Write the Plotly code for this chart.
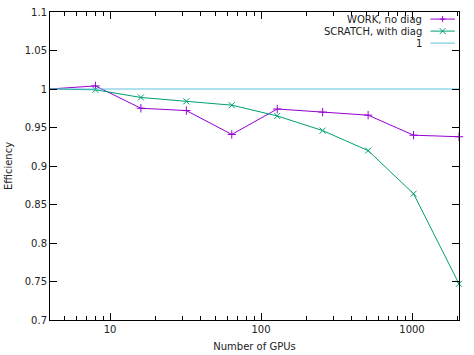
import plotly.graph_objects as go
import numpy as np

gpus = [4, 8, 16, 32, 64, 128, 256, 512, 1024, 2048]
work_no_diag = [1.0, 1.004, 0.975, 0.972, 0.941, 0.974, 0.970, 0.966, 0.940, 0.938]
scratch_with_diag = [1.0, 0.999, 0.989, 0.984, 0.979, 0.965, 0.946, 0.920, 0.864, 0.747]
one_x = [4, 2048]
one_y = [1.0, 1.0]

series_names = ["WORK, no diag", "SCRATCH, with diag", "1"]
colors = ["#9400d3", "#009e73", "#5ec4dc"]
symbols = ["cross-thin-open", "x-thin-open", None]

xtick_vals = [10, 100, 1000]
xtick_text = ["10", "100", "1000"]
xminor_vals = [m * d for d in (1, 10, 100, 1000) for m in range(2, 10) if 4 < m * d < 2048]
ytick_vals = [0.7, 0.75, 0.8, 0.85, 0.9, 0.95, 1.0, 1.05, 1.1]
ytick_text = ["0.7", "0.75", "0.8", "0.85", "0.9", "0.95", "1", "1.05", "1.1"]

font = dict(family="DejaVu Sans, Liberation Sans, sans-serif", size=10, color="#222")

fig = go.Figure()
fig.add_trace(go.Scatter(x=gpus, y=work_no_diag, mode="lines+markers",
                         line=dict(color=colors[0], width=1),
                         marker=dict(symbol=symbols[0], size=6, color=colors[0],
                                     line=dict(color=colors[0], width=1)),
                         cliponaxis=False, showlegend=False))
fig.add_trace(go.Scatter(x=gpus, y=scratch_with_diag, mode="lines+markers",
                         line=dict(color=colors[1], width=1),
                         marker=dict(symbol=symbols[1], size=6, color=colors[1],
                                     line=dict(color=colors[1], width=1)),
                         cliponaxis=False, showlegend=False))
fig.add_trace(go.Scatter(x=one_x, y=one_y, mode="lines",
                         line=dict(color=colors[2], width=1), showlegend=False))

# gnuplot-style key: text, then sample to its right (paper coordinates)
key_y = [0.977, 0.938, 0.899]
for i, name in enumerate(series_names):
    fig.add_shape(type="line", xref="paper", yref="paper",
                  x0=0.93, x1=0.99, y0=key_y[i], y1=key_y[i],
                  line=dict(color=colors[i], width=1))
    if symbols[i] == "cross-thin-open":
        segs = [(-3, 0, 3, 0), (0, -3, 0, 3)]
    elif symbols[i] == "x-thin-open":
        segs = [(-3, -3, 3, 3), (-3, 3, 3, -3)]
    else:
        segs = []
    for (a0, b0, a1, b1) in segs:
        fig.add_shape(type="line", xref="paper", yref="paper",
                      xsizemode="pixel", ysizemode="pixel",
                      xanchor=0.96, yanchor=key_y[i],
                      x0=a0, x1=a1, y0=b0, y1=b1,
                      line=dict(color=colors[i], width=1))
    fig.add_annotation(x=0.915, y=key_y[i], xref="paper", yref="paper", text=name,
                       showarrow=False, xanchor="right", yanchor="middle",
                       font=font)

fig.update_layout(
    width=474, height=355,
    margin=dict(l=50, r=15, t=12, b=35, autoexpand=False),
    paper_bgcolor="white", plot_bgcolor="white",
    font=font,
    xaxis=dict(type="log", range=[np.log10(4), np.log10(2048)],
               tickmode="array", tickvals=xtick_vals, ticktext=xtick_text,
               ticks="inside", ticklen=7, tickcolor="black",
               showline=True, linecolor="black", linewidth=1, mirror="ticks",
               showgrid=False, zeroline=False, automargin=False,
               minor=dict(tickmode="array", tickvals=xminor_vals,
                          ticks="inside", ticklen=4, tickcolor="black", showgrid=False),
               title=dict(text="Number of GPUs", font=font, standoff=8)),
    yaxis=dict(range=[0.7, 1.1], tickmode="array", tickvals=ytick_vals, ticktext=ytick_text,
               ticks="inside", ticklen=7, tickcolor="black",
               showline=True, linecolor="black", linewidth=1, mirror="ticks",
               showgrid=False, zeroline=False, automargin=False,
               title=dict(text="Efficiency", font=font, standoff=10)),
)

fig.write_html("out.html", config={"displayModeBar": False},
               post_script="document.body.style.margin='0';")
